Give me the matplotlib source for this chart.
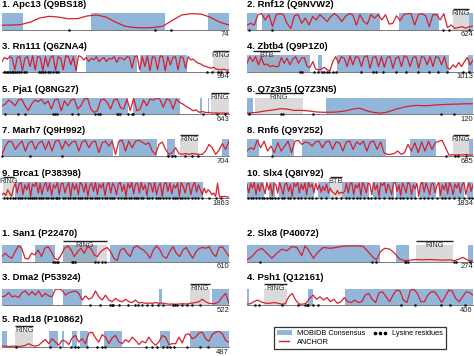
import matplotlib
matplotlib.use('Agg')
import matplotlib.pyplot as plt
from matplotlib.patches import Patch
from matplotlib.lines import Line2D
import numpy as np

plt.rcParams['font.family'] = ['Liberation Sans', 'DejaVu Sans']

# ---------------- data ----------------
# Human proteins
apc13_len = 74
apc13_anchor = [0.26, 0.27, 0.30, 0.45, 0.70, 0.80, 0.75, 0.65, 0.66, 0.82, 0.88, 0.75, 0.45,
                0.20, 0.12, 0.10, 0.12, 0.20, 0.55, 0.88, 0.96, 0.94, 0.75, 0.45, 0.27]
apc13_mobidb = [(0, 7), (29, 53), (67, 74)]
apc13_domains = []
apc13_lys = [22, 50, 55]

rnf12_len = 624
rnf12_anchor = [0.27, 0.37, 0.27, 0.9, 0.97, 0.58, 0.9, 0.17, 0.9, 0.96, 0.9, 0.37, 0.06, 0.83, 0.9,
                0.37, 0.69, 0.27, 0.79, 0.58, 0.9, 0.69, 0.48, 0.79, 0.96, 0.79, 0.48, 0.79, 0.96,
                0.9, 0.27, 0.9, 0.48, 0.33, 0.9, 0.69, 0.9, 0.58, 0.9, 0.33, 0.37, 0.83, 0.54, 0.9,
                0.96, 0.97, 0.27, 0.9, 0.96, 0.83, 0.17, 0.9, 0.9, 0.58, 0.96, 0.12, 0.27, 0.06,
                0.12, 0.17, 0.08, 0.17, 0.21]
rnf12_mobidb = [(0, 27), (41, 366), (421, 531), (612, 624)]
rnf12_domains = [('RING', 568, 612)]
rnf12_lys = [5, 69, 541, 559, 614]

rn111_len = 994
rn111_anchor = [0.6, 0.85, 0.75, 0.9, 0.8, 0.1, 0.85, 0.9, 0.05, 0.8, 0.9, 0.3, 0.95, 0.1, 0.9, 0.85,
                0.05, 0.9, 0.3, 0.85, 0.95, 0.05, 0.9, 0.8, 0.1, 0.95, 0.9, 0.4, 0.9, 0.05, 0.95,
                0.9, 0.7, 0.85, 0.6, 0.8, 0.7, 0.9, 0.6, 0.75, 0.85, 0.6, 0.8, 0.75, 0.9, 0.55, 0.85,
                0.8, 0.7, 0.9, 0.85, 0.2, 0.9, 0.95, 0.1, 0.9, 0.3, 0.95, 0.05, 0.9, 0.85, 0.1, 0.95,
                0.9, 0.05, 0.9, 0.4, 0.85, 0.9, 0.1, 0.9, 0.85, 0.2, 0.9, 0.7, 0.75, 0.6, 0.5, 0.45,
                0.35, 0.3, 0.25, 0.2, 0.25, 0.15, 0.12, 0.1, 0.15, 0.08, 0.1]
rn111_mobidb = [(30, 330), (368, 592), (606, 812)]
rn111_domains = [('RING', 925, 994)]
rn111_lys = [8, 15, 20, 28, 35, 42, 50, 58, 66, 75, 85, 95, 105, 160, 170, 178, 190, 200, 210,
             222, 235, 245, 897, 920, 945, 960, 985]

zbtb4_len = 1013
zbtb4_anchor = [0.5, 0.9, 0.6, 0.9, 0.4, 0.85, 0.4, 0.45, 0.3, 0.35, 0.3, 0.3, 0.85, 0.5, 0.8, 0.4,
                0.75, 0.9, 0.5, 0.8, 0.85, 0.3, 0.25, 0.6, 0.15, 0.1, 0.15, 0.25, 0.1, 0.05, 0.6,
                0.9, 0.5, 0.9, 0.8, 0.3, 0.95, 0.4, 0.9, 0.85, 0.3, 0.9, 0.95, 0.2, 0.85, 0.9, 0.3,
                0.9, 0.25, 0.85, 0.9, 0.2, 0.8, 0.9, 0.3, 0.95, 0.85, 0.3, 0.85, 0.9, 0.2, 0.9, 0.85,
                0.4, 0.9, 0.3, 0.9, 0.85, 0.4, 0.9, 0.2, 0.15, 0.4, 0.25, 0.55, 0.3, 0.6, 0.85, 0.4,
                0.7]
zbtb4_mobidb = [(0, 283), (320, 335), (402, 907), (989, 1013)]
zbtb4_domains = [('BTB', 25, 149)]
zbtb4_lys = [238, 245, 300, 320, 335, 345, 357, 369, 387, 399, 513, 565, 580, 610, 666, 714,
             766, 815, 855, 895, 967, 997]

pja1_len = 643
pja1_anchor = [0.5, 0.6, 0.85, 0.7, 0.5, 0.85, 0.9, 0.5, 0.2, 0.6, 0.85, 0.75, 0.9, 0.6, 0.8, 0.3,
               0.85, 0.9, 0.2, 0.8, 0.5, 0.85, 0.9, 0.3, 0.5, 0.9, 0.95, 0.3, 0.1, 0.2, 0.85, 0.9,
               0.7, 0.3, 0.85, 0.9, 0.4, 0.3, 0.9, 0.2, 0.95, 0.2, 0.3, 0.85, 0.5, 0.9, 0.85, 0.95,
               0.9, 0.4, 0.9, 0.85, 0.3, 0.9, 0.7, 0.6, 0.45, 0.35, 0.2, 0.25, 0.1, 0.15, 0.08,
               0.1, 0.05, 0.07, 0.05, 0.06, 0.05, 0.04]
pja1_mobidb = [(0, 357), (372, 504), (561, 566), (584, 587)]
pja1_domains = [('RING', 592, 643)]
pja1_lys = [8, 46, 65, 145, 150, 155, 197, 216, 263, 273, 278, 325, 329, 334, 358, 367, 372,
            400, 570, 608, 632]

q7z3n5_len = 120
q7z3n5_pos = [0, 5.3, 10.6, 14.1, 17.6, 21.1, 24.7, 28.2, 31.7, 37, 41.4, 47.6, 52.9, 56.4, 59.9,
              63.4, 67, 70.5, 74, 79.3, 84.6, 89.9, 95.2, 100.5, 105.7, 111, 116.3, 120]
q7z3n5_anchor = [0.05, 0.1, 0.2, 0.25, 0.32, 0.3, 0.22, 0.22, 0.2, 0.12, 0.1, 0.12, 0.2, 0.3,
                 0.35, 0.2, 0.1, 0.05, 0.1, 0.3, 0.45, 0.52, 0.5, 0.55, 0.58, 0.6, 0.62, 0.62]
q7z3n5_mobidb = [(0, 3), (42, 120)]
q7z3n5_domains = [('RING', 4, 30)]
q7z3n5_lys = [1, 18, 19, 35, 103, 110]

marh7_len = 704
marh7_anchor = [0.1, 0.6, 0.9, 0.85, 0.4, 0.7, 0.9, 0.3, 0.8, 0.9, 0.4, 0.8, 0.9, 0.4, 0.9, 0.3,
                0.9, 0.95, 0.4, 0.9, 0.6, 0.85, 0.9, 0.3, 0.85, 0.95, 0.5, 0.85, 0.9, 0.2, 0.8, 0.9,
                0.6, 0.9, 0.1, 0.9, 0.95, 0.3, 0.9, 0.5, 0.9, 0.95, 0.85, 0.7, 0.8, 0.3, 0.1, 0.7,
                0.85, 0.4, 0.1, 0.2, 0.5, 0.15, 0.1, 0.15, 0.1, 0.15, 0.12, 0.1, 0.1, 0.3, 0.7, 0.5,
                0.1, 0.35, 0.75, 0.4, 0.9]
marh7_mobidb = [(0, 345), (362, 480), (511, 536), (681, 704)]
marh7_domains = [('RING', 552, 609)]
marh7_lys = [0, 87, 185, 516, 526, 537, 568, 588, 609]

rnf6_len = 685
rnf6_anchor = [0.3, 0.5, 0.4, 0.95, 0.5, 0.9, 0.3, 0.6, 0.2, 0.8, 0.3, 0.6, 0.9, 0.2, 0.9, 0.95,
               0.7, 0.85, 0.8, 0.6, 0.85, 0.9, 0.5, 0.85, 0.9, 0.4, 0.85, 0.8, 0.3, 0.85, 0.9, 0.4,
               0.85, 0.7, 0.9, 0.3, 0.85, 0.9, 0.4, 0.85, 0.2, 0.1, 0.1, 0.15, 0.3, 0.1, 0.2, 0.7,
               0.3, 0.8, 0.2, 0.85, 0.3, 0.9, 0.4, 0.8, 0.9, 0.95, 0.5, 0.05, 0.08, 0.05, 0.08,
               0.06, 0.1, 0.05, 0.05]
rnf6_mobidb = [(0, 35), (75, 141), (166, 422), (493, 573), (674, 685)]
rnf6_domains = [('RING', 624, 674)]
rnf6_lys = [75, 604, 629, 639, 664]

brca1_len = 1863
brca1_anchor = [0.2, 0.3, 0.15, 0.5, 0.3, 0.1, 0.6,
                0.9, 0.3, 0.85, 0.95, 0.2, 0.8, 0.5, 0.9, 0.1, 0.85, 0.7, 0.95, 0.3, 0.9, 0.2,
                0.75, 0.95, 0.4, 0.9, 0.15, 0.8, 0.6, 0.95, 0.2, 0.85, 0.9, 0.3, 0.7, 0.95, 0.1,
                0.9, 0.5, 0.85, 0.2, 0.95, 0.8, 0.35, 0.9, 0.1, 0.75, 0.9, 0.4, 0.95, 0.2, 0.85,
                0.6, 0.9, 0.15, 0.8, 0.95, 0.3, 0.9, 0.7, 0.2, 0.85, 0.95, 0.4, 0.8, 0.1, 0.9, 0.6,
                0.95, 0.25, 0.85, 0.9, 0.3, 0.95, 0.5, 0.8, 0.15, 0.9, 0.85, 0.35, 0.95, 0.2, 0.7,
                0.9, 0.1, 0.85, 0.95, 0.4, 0.9, 0.25, 0.8, 0.6, 0.9, 0.1, 0.95, 0.7, 0.3, 0.85,
                0.9, 0.2, 0.75, 0.95, 0.35, 0.8, 0.5, 0.2,
                0.6, 0.3, 0.5, 0.4, 0.2, 0.3, 0.1, 0.9, 0.05, 0.1, 0.08, 0.1, 0.05, 0.08]
brca1_mobidb = [(105, 1652)]
brca1_domains = [('RING', 10, 100)]
brca1_lys = [20, 45, 65, 90, 110, 130, 150, 165, 190, 210, 230, 250, 265, 280, 300, 320, 340,
             360, 380, 400, 420, 440, 455, 470, 500, 520, 540, 555, 580, 600, 620, 640, 655, 680,
             700, 720, 740, 760, 780, 800, 820, 845, 860, 890, 905, 920, 950, 980, 1000, 1020,
             1040, 1060, 1080, 1100, 1120, 1140, 1160, 1190, 1210, 1230, 1260, 1280, 1300, 1320,
             1350, 1370, 1400, 1420, 1440, 1460, 1480, 1500, 1530, 1560, 1580, 1610, 1640, 1700,
             1760, 1800]

slx4_len = 1834
slx4_anchor = [0.8, 0.3, 0.9, 0.6, 0.95, 0.2, 0.85, 0.4, 0.9, 0.7, 0.25, 0.95, 0.5, 0.85, 0.15,
               0.9, 0.8, 0.3, 0.95, 0.6, 0.2, 0.85, 0.9, 0.4, 0.8, 0.1, 0.9, 0.7, 0.95, 0.3, 0.85,
               0.5, 0.9, 0.2, 0.95, 0.65, 0.85, 0.3, 0.9, 0.5, 0.8, 0.35, 0.7, 0.45, 0.85, 0.3,
               0.6, 0.4,
               0.3, 0.2, 0.45, 0.25, 0.35, 0.3, 0.4,
               0.9, 0.3, 0.85, 0.95, 0.2, 0.8, 0.6, 0.9, 0.15, 0.95, 0.7, 0.3, 0.9, 0.85, 0.2,
               0.95, 0.5, 0.8, 0.1, 0.9, 0.75, 0.95, 0.3, 0.85, 0.6, 0.2, 0.9, 0.95, 0.4, 0.8,
               0.15, 0.9, 0.7, 0.3, 0.95, 0.85, 0.2, 0.8, 0.55, 0.9, 0.1, 0.85, 0.95, 0.35, 0.9,
               0.6, 0.2, 0.85, 0.9, 0.3, 0.75, 0.95, 0.15, 0.8, 0.5, 0.9, 0.25, 0.95, 0.7, 0.2,
               0.85, 0.6, 0.9, 0.3, 0.8, 0.95, 0.2, 0.7, 0.9, 0.4, 0.8]
slx4_mobidb = [(0, 135), (175, 230), (260, 540), (580, 673), (767, 990), (1020, 1190),
               (1210, 1370), (1400, 1530), (1560, 1760), (1785, 1834)]
slx4_domains = [('BTB', 673, 767)]
slx4_lys = [10, 30, 50, 70, 95, 120, 140, 160, 185, 200, 225, 250, 280, 300, 330, 350, 380,
            410, 440, 470, 500, 530, 560, 600, 640, 690, 720, 760, 800, 830, 860, 890, 920, 950,
            980, 1010, 1040, 1070, 1110, 1150, 1180, 1210, 1240, 1270, 1300, 1330, 1360, 1400,
            1440, 1470, 1500, 1540, 1580, 1610, 1640, 1680, 1720, 1760, 1800, 1825]

# Yeast proteins
san1_len = 610
san1_anchor = [0.3, 0.5, 0.3, 0.2, 0.6, 0.95, 0.8, 0.2, 0.15, 0.5, 0.4, 0.7, 0.3, 0.8, 0.9, 0.6,
               0.2, 0.1, 0.4, 0.8, 0.95, 0.7, 0.3, 0.6, 0.8, 0.5, 0.9, 0.8, 0.4, 0.3, 0.6, 0.75,
               0.85, 0.6, 0.2, 0.05, 0.7, 0.8, 0.5, 0.3, 0.85, 0.95, 0.8, 0.7, 0.5, 0.2, 0.7, 0.95,
               0.7, 0.3, 0.2, 0.6, 0.9, 0.5, 0.3, 0.7, 0.85, 0.5, 0.2, 0.6, 0.8, 0.85, 0.8, 0.9,
               0.5, 0.3, 0.85, 0.9, 0.6, 0.3]
san1_mobidb = [(0, 53), (89, 142), (165, 254), (290, 610)]
san1_domains = [('RING', 165, 281)]
san1_lys = [138, 142, 147, 151, 187, 192, 196, 250, 259, 268, 277]

slx8_len = 274
slx8_pos = [0, 6, 12, 18.1, 24.1, 30.2, 36.2, 42.2, 48.3, 54.3, 60.4, 66.4, 70.4, 74.4, 80.5, 86.5,
            92.5, 100.6, 108.6, 116.7, 124.7, 132.8, 140.8, 146.8, 152.9, 156.9, 161.7, 166.9,
            173, 179, 185, 191.1, 197.1, 205.1, 213.2, 221.2, 229.3, 237.3, 245.3, 251.4, 257.4,
            261.4, 265.4, 269.5, 274]
slx8_anchor = [0.1, 0.3, 0.65, 0.8, 0.5, 0.2, 0.5, 0.75, 0.65, 0.9, 0.85, 0.35, 0.95, 0.7, 0.2,
               0.6, 0.85, 0.8, 0.85, 0.93, 0.95, 0.95, 0.92, 0.6, 0.25, 0.1, 0.6, 0.8, 0.75, 0.5,
               0.15, 0.05, 0.08, 0.12, 0.1, 0.12, 0.1, 0.08, 0.1, 0.05, 0.15, 0.25, 0.15, 0.05,
               0.05]
slx8_mobidb = [(0, 161), (181, 197), (268, 274)]
slx8_domains = [('RING', 205, 250)]
slx8_lys = [16, 151, 157, 191, 193, 195, 251, 253, 270]

dma2_len = 522
dma2_anchor = [0.5, 0.55, 0.75, 0.5, 0.55, 0.45, 0.75, 0.85, 0.6, 0.8, 0.6, 0.85, 0.5, 0.7, 0.55,
               0.5, 0.95, 0.97, 0.9, 0.6, 0.75, 0.8, 0.85, 0.7, 0.3, 0.55, 0.35, 0.45, 0.85, 0.5,
               0.3, 0.6, 0.3, 0.2, 0.4, 0.25, 0.2, 0.35, 0.2, 0.15, 0.3, 0.12, 0.15, 0.1, 0.12,
               0.1, 0.15, 0.1, 0.12, 0.08, 0.05, 0.06, 0.05, 0.06, 0.08, 0.06, 0.08, 0.12, 0.15,
               0.2, 0.35, 0.2, 0.1, 0.08, 0.1, 0.2, 0.5, 0.7, 0.1]
dma2_mobidb = [(0, 118), (141, 184), (360, 367), (482, 522)]
dma2_domains = [('RING', 433, 478)]
dma2_lys = [202, 225, 248, 252, 256, 268, 290, 306, 313, 321, 333, 344, 359, 371, 394, 398,
            402, 413, 425, 436, 455]

psh1_len = 406
psh1_anchor = [0.05, 0.08, 0.2, 0.3, 0.2, 0.12, 0.1, 0.12, 0.15, 0.1, 0.05, 0.08, 0.5, 0.7, 0.3,
               0.05, 0.05, 0.1, 0.4, 0.6, 0.35, 0.5, 0.3, 0.45, 0.2, 0.35, 0.1, 0.2, 0.45, 0.2,
               0.15, 0.3, 0.15, 0.2, 0.6, 0.7, 0.35, 0.15, 0.75, 0.8, 0.5, 0.2, 0.6, 0.9, 0.85,
               0.3, 0.15, 0.9, 0.95, 0.7, 0.2, 0.2, 0.6, 0.8, 0.8, 0.5, 0.15, 0.5, 0.9, 0.85, 0.4,
               0.2, 0.5, 0.8, 0.75, 0.6]
psh1_mobidb = [(0, 3), (110, 119), (176, 406)]
psh1_domains = [('RING', 30, 72)]
psh1_lys = [15, 21, 63, 92, 104, 107, 110, 119, 128, 277, 301, 349, 364, 391]

rad18_len = 487
rad18_anchor = [0.05, 0.05, 0.03, 0.05, 0.05, 0.03, 0.05, 0.1, 0.2, 0.1, 0.05, 0.1, 0.3, 0.45,
                0.2, 0.5, 0.3, 0.1, 0.4, 0.35, 0.15, 0.55, 0.7, 0.3, 0.5, 0.2, 0.85, 0.9, 0.55,
                0.3, 0.75, 0.6, 0.2, 0.55, 0.7, 0.3, 0.2, 0.45, 0.3, 0.6, 0.4, 0.15, 0.35, 0.25,
                0.6, 0.3, 0.1, 0.3, 0.7, 0.6, 0.15, 0.2, 0.2, 0.6, 0.25, 0.75, 0.8, 0.5, 0.6, 0.85,
                0.9, 0.5, 0.35, 0.75, 0.9, 0.95, 0.8, 0.4, 0.3]
rad18_mobidb = [(0, 10), (101, 121), (128, 132), (151, 161), (167, 185), (219, 257), (339, 360),
                (403, 487)]
rad18_domains = [('RING', 28, 67)]
rad18_lys = [31, 103, 124, 149, 157, 164, 182, 203, 214, 221, 310, 321, 332, 346, 353, 360, 368,
             396, 425, 443]

# ---------------- drawing ----------------
W, H = 474, 356
fig = plt.figure(figsize=(W / 100, H / 100), dpi=100)

BLUE = '#92b6da'
RED = '#d8202c'
DOMAIN = '#a9a9a9'


def panel(x0, x1, title_y, top_off, name, L, anchor, mobidb, domains, lys, pos=None):
    ttop = title_y + top_off
    tbot = title_y + top_off + 16.5
    ax = fig.add_axes([x0 / W, 1 - tbot / H, (x1 - x0) / W, (tbot - ttop) / H])
    ax.set_xlim(0, L)
    ax.set_ylim(0, 1)
    ax.axis('off')
    for s, e in mobidb:
        ax.axvspan(s, e, color=BLUE, lw=0)
    for nm, s, e in domains:
        ax.axvspan(s, e, color=DOMAIN, alpha=0.42, lw=0)
        ax.plot([s, e], [1.27, 1.27], color='#222222', lw=1.0, clip_on=False,
                solid_capstyle='butt')
        ax.text((s + e) / 2, 1.2, nm, ha='center', va='top', fontsize=5.3,
                color='#333333', clip_on=False)
    xs = pos if pos is not None else np.linspace(0, L, len(anchor))
    ax.plot([0, L], [0, 0], color='#444444', lw=0.5, clip_on=False)
    ax.plot(xs, anchor, color=RED, lw=0.9)
    ax.plot(lys, [0] * len(lys), 'o', ms=1.8, color='black', mew=0, clip_on=False)
    ax.text(L, -0.12, str(L), ha='right', va='top', fontsize=5.5, color='#222222', clip_on=False)
    fig.text(x0 / W, 1 - title_y / H, name, fontsize=6.8, fontweight='bold', va='center',
             ha='left')


LX0, LX1 = 2, 229
RX0, RX1 = 247, 473
hum_T = [4.5, 46.5, 89, 131, 173]
yst_T = [234, 278, 320]

panel(LX0, LX1, hum_T[0], 8.5, '1. Apc13 (Q9BS18)', apc13_len, apc13_anchor, apc13_mobidb, apc13_domains, apc13_lys)
panel(RX0, RX1, hum_T[0], 8.5, '2. Rnf12 (Q9NVW2)', rnf12_len, rnf12_anchor, rnf12_mobidb, rnf12_domains, rnf12_lys)
panel(LX0, LX1, hum_T[1], 8.5, '3. Rn111 (Q6ZNA4)', rn111_len, rn111_anchor, rn111_mobidb, rn111_domains, rn111_lys)
panel(RX0, RX1, hum_T[1], 8.5, '4. Zbtb4 (Q9P1Z0)', zbtb4_len, zbtb4_anchor, zbtb4_mobidb, zbtb4_domains, zbtb4_lys)
panel(LX0, LX1, hum_T[2], 8.5, '5. Pja1 (Q8NG27)', pja1_len, pja1_anchor, pja1_mobidb, pja1_domains, pja1_lys)
panel(RX0, RX1, hum_T[2], 8.5, '6. Q7z3n5 (Q7Z3N5)', q7z3n5_len, q7z3n5_anchor, q7z3n5_mobidb, q7z3n5_domains, q7z3n5_lys, pos=q7z3n5_pos)
panel(LX0, LX1, hum_T[3], 8.5, '7. Marh7 (Q9H992)', marh7_len, marh7_anchor, marh7_mobidb, marh7_domains, marh7_lys)
panel(RX0, RX1, hum_T[3], 8.5, '8. Rnf6 (Q9Y252)', rnf6_len, rnf6_anchor, rnf6_mobidb, rnf6_domains, rnf6_lys)
panel(LX0, LX1, hum_T[4], 8.5, '9. Brca1 (P38398)', brca1_len, brca1_anchor, brca1_mobidb, brca1_domains, brca1_lys)
panel(RX0, RX1, hum_T[4], 8.5, '10. Slx4 (Q8IY92)', slx4_len, slx4_anchor, slx4_mobidb, slx4_domains, slx4_lys)

panel(LX0, LX1, yst_T[0], 11, '1. San1 (P22470)', san1_len, san1_anchor, san1_mobidb, san1_domains, san1_lys)
panel(RX0, RX1, yst_T[0], 11, '2. Slx8 (P40072)', slx8_len, slx8_anchor, slx8_mobidb, slx8_domains, slx8_lys, pos=slx8_pos)
panel(LX0, LX1, yst_T[1], 10.5, '3. Dma2 (P53924)', dma2_len, dma2_anchor, dma2_mobidb, dma2_domains, dma2_lys)
panel(RX0, RX1, yst_T[1], 10.5, '4. Psh1 (Q12161)', psh1_len, psh1_anchor, psh1_mobidb, psh1_domains, psh1_lys)
panel(LX0, LX1, yst_T[2], 10.5, '5. Rad18 (P10862)', rad18_len, rad18_anchor, rad18_mobidb, rad18_domains, rad18_lys)

handles = [Patch(facecolor=BLUE, edgecolor='none', label='MOBIDB Consensus'),
           Line2D([], [], color=RED, lw=1.0, label='ANCHOR'),
           Line2D([], [], color='black', marker='o', ls='none', ms=1.6, label='Lysine residues')]
leg = fig.legend(handles=handles, loc='center', bbox_to_anchor=(360 / W, 1 - 338 / H),
                 ncol=2, fontsize=5.3, frameon=True, fancybox=False, edgecolor='black',
                 numpoints=3, handlelength=2.0, handleheight=0.7, columnspacing=1.0,
                 labelspacing=0.25, borderpad=0.35, handletextpad=0.7, markerscale=1.0)
leg.get_frame().set_linewidth(0.9)

fig.savefig('out.png', dpi=100)
